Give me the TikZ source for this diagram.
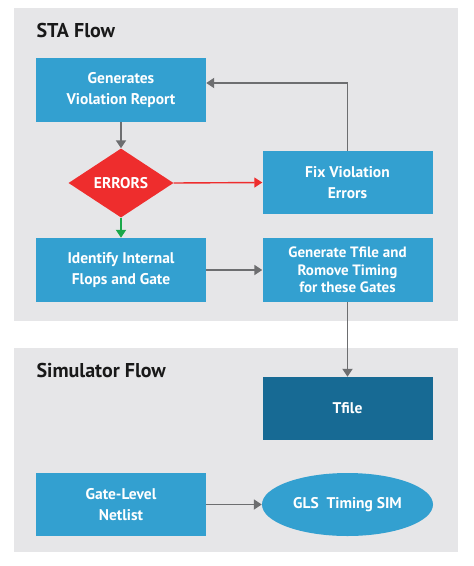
\documentclass[tikz,border=0pt]{standalone}
\usepackage{fontspec}
\setmainfont{PT Sans}
\usetikzlibrary{shapes.geometric,arrows.meta}
\definecolor{panelgray}{HTML}{E6E6E8}
\definecolor{boxblue}{HTML}{33A0D0}
\definecolor{darkblue}{HTML}{176A94}
\definecolor{errred}{HTML}{EE2D2D}
\definecolor{arrgray}{HTML}{6D6E70}
\definecolor{okgreen}{HTML}{1AA84A}
\tikzset{
  panel/.style={fill=panelgray, draw=none},
  title/.style={anchor=west, font=\fontsize{20}{24}\selectfont\bfseries, text=black!90},
  bluebox/.style={fill=boxblue, draw=none, minimum width=170pt, minimum height=64pt, text=white, align=center, font=\fontsize{15.5}{21}\selectfont\bfseries, inner sep=0pt},
  darkbox/.style={bluebox, fill=darkblue},
  decision/.style={diamond, fill=errred, draw=none, minimum width=105pt, minimum height=69pt, aspect=1.52, inner sep=0pt, text=white, font=\fontsize{15.5}{21}\selectfont\bfseries},
  oval/.style={ellipse, fill=boxblue, draw=none, minimum width=171pt, minimum height=63pt, text=white, font=\fontsize{15.5}{21}\selectfont\bfseries, inner sep=0pt},
  conn/.style={draw=arrgray, line width=1.8pt, -{Triangle[width=10pt,length=8pt]}},
}
\begin{document}
\begin{tikzpicture}[x=1pt,y=-1pt]
\useasboundingbox (0,0) rectangle (474,566);
\fill[white] (0,0) rectangle (474,566);
\path[panel] (14,8) rectangle (458,321);
\path[panel] (14,348) rectangle (458,552);
\node[title] (sta) at (33,30) {STA Flow};
\node[title] (sim) at (33,370) {Simulator Flow};
\node[bluebox] (gen) at (121,90) {Generates\\Violation Report};
\node[decision] (err) at (121,183) {ERRORS};
\node[bluebox, minimum height=63pt] (fix) at (347.5,182.5) {Fix Violation\\Errors};
\node[bluebox] (ident) at (121,270) {Identify Internal\\Flops and Gate};
\node[bluebox, font=\fontsize{15}{17.5}\selectfont\bfseries] (tgen) at (347.5,270) {Generate Tfile and\\Romove Timing\\for these Gates};
\node[darkbox, minimum height=63pt] (tfile) at (347.5,408.5) {Tfile};
\node[bluebox, minimum height=63pt] (net) at (121,504.5) {Gate-Level\\Netlist};
\node[oval] (gls) at (347.5,504.5) {GLS\ \ Timing SIM};
\draw[conn] (gen.south) -- (err.north);
\draw[conn, draw=errred, line width=1.4pt] (err.east) -- (fix.west);
\draw[conn, draw=okgreen] (err.south) -- (ident.north);
\draw[conn] (fix.north) |- (gen.east |- 0,83);
\draw[conn] (ident.east) -- (tgen.west);
\draw[conn] (tgen.south) -- (tfile.north);
\draw[conn] (net.east) -- (gls.west);
\end{tikzpicture}
\end{document}
